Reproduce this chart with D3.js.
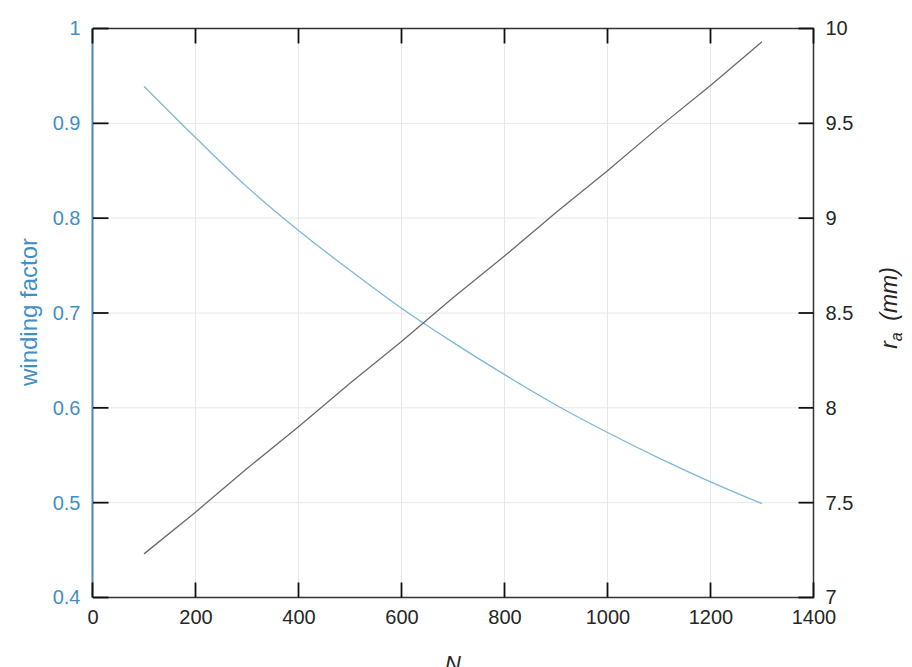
<!DOCTYPE html>
<html>
<head>
<meta charset="utf-8">
<script src="https://cdn.jsdelivr.net/npm/d3@7"></script>
<style>
  body { margin: 0; background: #fff; }
  svg { display: block; font-family: "Liberation Sans", Arial, sans-serif; }
</style>
</head>
<body>
<svg id="chart" width="912" height="667"></svg>
<script>
// values
var nValues = [100, 200, 300, 400, 500, 600, 700, 800, 900, 1000, 1100, 1200, 1300];
var windingFactor = [0.939, 0.885, 0.833, 0.787, 0.745, 0.705, 0.669, 0.635, 0.603, 0.574, 0.547, 0.522, 0.499];
var radiusMm = [7.23, 7.45, 7.68, 7.90, 8.13, 8.35, 8.58, 8.80, 9.03, 9.25, 9.48, 9.70, 9.93];
var xTicks = [0, 200, 400, 600, 800, 1000, 1200, 1400];
var leftTicks = [0.4, 0.5, 0.6, 0.7, 0.8, 0.9, 1];
var rightTicks = [7, 7.5, 8, 8.5, 9, 9.5, 10];

var plotLeft = 92.5, plotRight = 813.5, plotTop = 28.5, plotBottom = 597.5;
var tickLen = 15;
var blue = "#3f8fc6";

var svg = d3.select("#chart");

var x = d3.scaleLinear().domain([0, 1400]).range([plotLeft, plotRight]);
var yL = d3.scaleLinear().domain([0.4, 1]).range([plotBottom, plotTop]);
var yR = d3.scaleLinear().domain([7, 10]).range([plotBottom, plotTop]);

// grid
var grid = svg.append("g").attr("stroke", "#e8e8e8").attr("stroke-width", 1);
grid.selectAll(".gx").data(xTicks.slice(1, -1)).enter().append("line")
    .attr("x1", function(d) { return x(d); }).attr("x2", function(d) { return x(d); })
    .attr("y1", plotTop).attr("y2", plotBottom);
grid.selectAll(".gy").data(leftTicks.slice(1, -1)).enter().append("line")
    .attr("y1", function(d) { return yL(d); }).attr("y2", function(d) { return yL(d); })
    .attr("x1", plotLeft).attr("x2", plotRight);

// curves
var lineL = d3.line().x(function(d, i) { return x(nValues[i]); }).y(function(d) { return yL(d); }).curve(d3.curveMonotoneX);
var lineR = d3.line().x(function(d, i) { return x(nValues[i]); }).y(function(d) { return yR(d); });

svg.append("path").datum(windingFactor).attr("d", lineL)
    .attr("fill", "none").attr("stroke", "#7db7da").attr("stroke-width", 1.3);
svg.append("path").datum(radiusMm).attr("d", lineR)
    .attr("fill", "none").attr("stroke", "#6a6a6a").attr("stroke-width", 1.3);

// frame
var frame = svg.append("g").attr("stroke-width", 1.5).attr("fill", "none");
frame.append("path")
    .attr("d", "M" + plotLeft + "," + plotTop + "H" + plotRight + "V" + plotBottom + "H" + plotLeft)
    .attr("stroke", "#333333");
frame.append("path")
    .attr("d", "M" + plotLeft + "," + plotTop + "V" + plotBottom)
    .attr("stroke", "#4f86b3").attr("stroke-width", 2);

// tick labels via d3 axes
function styleAxis(g, labelColor) {
    g.select(".domain").remove();
    g.selectAll(".tick line").remove();
    g.selectAll(".tick text").attr("fill", labelColor).attr("font-size", 20)
        .attr("font-family", "Liberation Sans, Arial, sans-serif");
}

svg.append("g").attr("transform", "translate(0," + plotBottom + ")")
    .call(d3.axisBottom(x).tickValues(xTicks).tickFormat(d3.format("d")).tickSize(0).tickPadding(12))
    .call(styleAxis, "#262626");

svg.append("g").attr("transform", "translate(" + plotLeft + ",0)")
    .call(d3.axisLeft(yL).tickValues(leftTicks).tickFormat(d3.format("~g")).tickSize(0).tickPadding(12))
    .call(styleAxis, blue);

svg.append("g").attr("transform", "translate(" + plotRight + ",0)")
    .call(d3.axisRight(yR).tickValues(rightTicks).tickFormat(d3.format("~g")).tickSize(0).tickPadding(12))
    .call(styleAxis, "#262626");

// axis titles
svg.append("text")
    .attr("transform", "translate(37,312) rotate(-90)")
    .attr("text-anchor", "middle")
    .attr("fill", blue)
    .attr("font-size", 24)
    .text("winding factor");

var rt = svg.append("text")
    .attr("transform", "translate(897,308) rotate(-90)")
    .attr("text-anchor", "middle")
    .attr("fill", "#262626")
    .attr("font-size", 23);
rt.append("tspan").attr("font-style", "italic").text("r");
rt.append("tspan").attr("font-style", "italic").attr("font-size", 16).attr("dy", 5).text("a");
rt.append("tspan").attr("font-style", "italic").attr("dy", -5).text("\u2002(mm)");

svg.append("text")
    .attr("x", (plotLeft + plotRight) / 2)
    .attr("y", 671)
    .attr("text-anchor", "middle")
    .attr("fill", "#262626")
    .attr("font-style", "italic")
    .attr("font-size", 22)
    .text("N");

// inward tick marks, painted last
var ticks = svg.append("g").attr("stroke", "#111").attr("stroke-width", 1.8);
ticks.selectAll(".tb").data(xTicks).enter().append("line")
    .attr("x1", function(d) { return x(d); }).attr("x2", function(d) { return x(d); })
    .attr("y1", plotBottom).attr("y2", plotBottom - tickLen);
ticks.selectAll(".tt").data(xTicks).enter().append("line")
    .attr("x1", function(d) { return x(d); }).attr("x2", function(d) { return x(d); })
    .attr("y1", plotTop).attr("y2", plotTop + tickLen);
ticks.selectAll(".tr").data(rightTicks).enter().append("line")
    .attr("y1", function(d) { return yR(d); }).attr("y2", function(d) { return yR(d); })
    .attr("x1", plotRight).attr("x2", plotRight - tickLen);
ticks.selectAll(".tl").data(leftTicks).enter().append("line")
    .attr("y1", function(d) { return yL(d); }).attr("y2", function(d) { return yL(d); })
    .attr("x1", plotLeft + 0.5).attr("x2", plotLeft + tickLen + 1);
</script>
</body>
</html>
